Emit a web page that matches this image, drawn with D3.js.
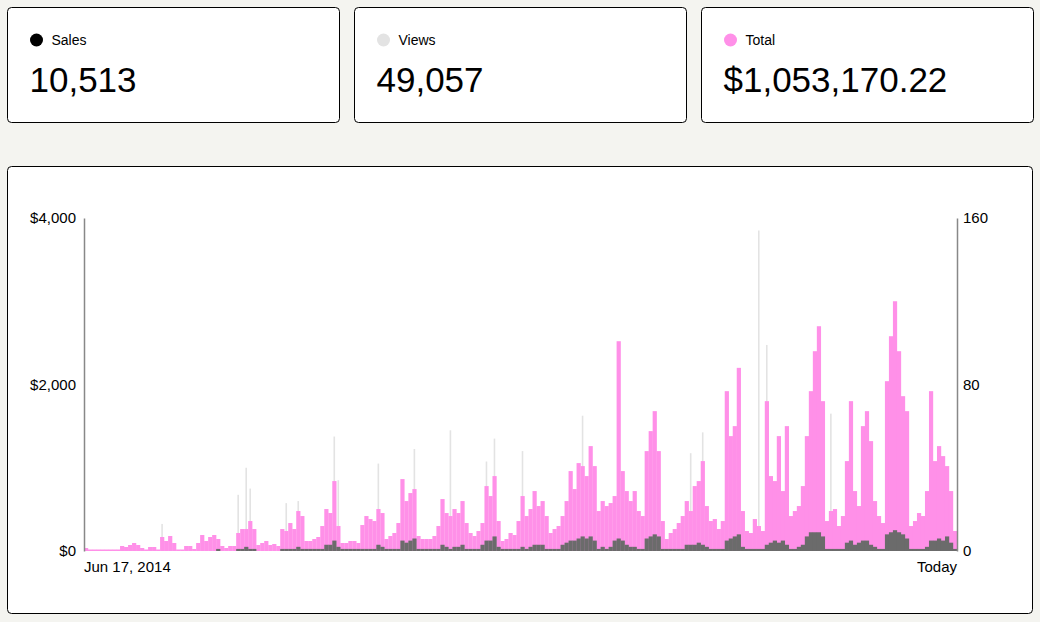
<!DOCTYPE html>
<html>
<head>
<meta charset="utf-8">
<script src="https://cdn.jsdelivr.net/npm/d3@7"></script>
<style>
  body { margin: 0; background: #f4f4f0; font-family: "Liberation Sans", Arial, sans-serif; }
  svg { display: block; }
</style>
</head>
<body>
<svg width="1040" height="622"></svg>
<script>
const svg = d3.select("svg");
const width = +svg.attr("width");
const height = +svg.attr("height");

// summary cards
const cardLabels = ["Sales", "Views", "Total"];
const cardValues = ["10,513", "49,057", "$1,053,170.22"];

// axis labels
const xLabels = ["Jun 17, 2014", "Today"];
const totalTicks = [0, 2000, 4000];
const countTicks = [0, 80, 160];

// one value per ~18 day bucket, Jun 17 2014 -> today
const totalValues = [
  36, 0, 0, 0, 0, 0, 0, 0, 0, 60,
  48, 72, 96, 72, 36, 0, 48, 48, 0, 168,
  120, 180, 96, 0, 0, 60, 60, 24, 96, 192,
  120, 168, 192, 144, 60, 36, 60, 60, 216, 264,
  264, 360, 264, 72, 96, 120, 72, 84, 60, 264,
  240, 336, 264, 480, 420, 120, 120, 144, 168, 300,
  504, 456, 840, 300, 96, 96, 120, 120, 96, 312,
  420, 384, 360, 504, 456, 144, 180, 216, 336, 864,
  600, 696, 744, 180, 144, 144, 144, 180, 300, 624,
  456, 420, 504, 456, 600, 336, 216, 180, 240, 336,
  780, 660, 900, 360, 120, 144, 216, 192, 360, 660,
  420, 504, 720, 540, 600, 420, 216, 264, 300, 420,
  600, 960, 744, 1056, 1020, 900, 1260, 1020, 480, 600,
  540, 576, 660, 2520, 960, 720, 600, 720, 480, 420,
  1200, 1440, 1680, 1200, 360, 144, 216, 264, 336, 420,
  600, 480, 780, 840, 1080, 540, 360, 384, 264, 360,
  1920, 1380, 1500, 2200, 480, 240, 216, 384, 300, 240,
  1800, 900, 840, 1380, 720, 1500, 420, 480, 540, 780,
  1380, 1920, 2400, 2700, 1800, 360, 480, 504, 300, 420,
  1080, 1800, 720, 540, 1500, 1680, 1320, 600, 420, 336,
  2040, 2580, 3000, 2400, 1860, 1680, 300, 360, 456, 420,
  720, 1920, 1080, 1260, 1140, 1020, 720, 240,
];

const viewValues = [
  1, 0, 0, 0, 0, 0, 0, 0, 0, 2,
  1, 2, 3, 2, 1, 0, 1, 1, 0, 13,
  3, 5, 3, 0, 0, 2, 2, 1, 3, 5,
  3, 5, 5, 4, 2, 1, 2, 2, 27, 7,
  40, 30, 7, 2, 3, 3, 2, 2, 2, 7,
  23, 9, 7, 24, 12, 3, 3, 4, 5, 8,
  14, 13, 55, 34, 3, 3, 3, 3, 3, 9,
  12, 11, 10, 42, 13, 4, 5, 6, 9, 24,
  17, 19, 49, 5, 4, 4, 4, 5, 8, 17,
  13, 58, 14, 13, 17, 9, 6, 5, 7, 9,
  43, 18, 54, 10, 3, 4, 6, 5, 10, 48,
  12, 14, 20, 15, 17, 12, 6, 7, 8, 12,
  17, 27, 21, 29, 65, 25, 35, 28, 13, 17,
  15, 16, 18, 40, 27, 20, 17, 20, 13, 12,
  33, 40, 47, 33, 10, 4, 6, 7, 9, 12,
  17, 47, 22, 23, 57, 15, 10, 11, 7, 10,
  40, 38, 42, 45, 13, 7, 6, 11, 154, 7,
  99, 25, 23, 38, 20, 42, 12, 13, 15, 22,
  38, 50, 60, 65, 50, 10, 66, 14, 8, 12,
  30, 45, 20, 15, 40, 45, 37, 17, 12, 9,
  50, 60, 65, 60, 50, 45, 8, 10, 13, 12,
  20, 45, 30, 35, 32, 30, 20, 7,
];

const saleValues = [
  0, 0, 0, 0, 0, 0, 0, 0, 0, 0,
  0, 0, 0, 0, 0, 0, 0, 0, 0, 0,
  0, 0, 0, 0, 0, 0, 0, 0, 0, 0,
  0, 0, 0, 1, 0, 0, 0, 0, 1, 1,
  2, 1, 1, 0, 0, 0, 0, 0, 0, 1,
  1, 1, 1, 2, 1, 1, 1, 1, 1, 1,
  3, 3, 5, 2, 1, 1, 1, 1, 1, 1,
  1, 1, 1, 3, 2, 1, 1, 1, 1, 5,
  4, 5, 6, 1, 1, 1, 1, 1, 1, 3,
  2, 1, 2, 2, 3, 1, 1, 1, 1, 3,
  5, 5, 7, 2, 1, 1, 1, 1, 1, 2,
  1, 2, 3, 3, 3, 1, 1, 1, 1, 3,
  4, 5, 5, 6, 7, 6, 7, 5, 1, 2,
  1, 2, 5, 6, 5, 3, 2, 2, 1, 1,
  6, 7, 8, 7, 1, 1, 1, 1, 1, 1,
  3, 3, 3, 4, 3, 2, 1, 1, 1, 1,
  5, 6, 7, 8, 2, 1, 1, 1, 1, 1,
  3, 4, 5, 4, 5, 3, 1, 1, 2, 3,
  7, 9, 9, 9, 7, 1, 1, 1, 1, 1,
  4, 5, 3, 4, 5, 5, 3, 2, 1, 1,
  8, 9, 10, 9, 8, 6, 1, 1, 1, 1,
  2, 5, 5, 6, 5, 7, 4, 1,
];

const colors = { sales: "#000", views: "#e3e3e3", total: "#ff90e8", salesBar: "#6b6b6b" };
const cardColors = [colors.sales, colors.views, colors.total];

svg.append("rect").attr("width", width).attr("height", height).attr("fill", "#f4f4f0");

// ---- cards ----
const cardX = d3.scalePoint().domain(cardLabels).range([7.5, 701.5]);
const cardG = svg
  .selectAll("g.card")
  .data(cardLabels)
  .enter()
  .append("g")
  .attr("class", "card")
  .attr("transform", (d) => `translate(${cardX(d)},7.5)`);

cardG
  .append("rect")
  .attr("width", 332)
  .attr("height", 115)
  .attr("rx", 4)
  .attr("fill", "#fff")
  .attr("stroke", "#000");

cardG
  .append("circle")
  .attr("cx", 29)
  .attr("cy", 32.5)
  .attr("r", 6.5)
  .attr("fill", (d, i) => cardColors[i]);

cardG
  .append("text")
  .attr("x", 44)
  .attr("y", 37.5)
  .attr("font-size", 14)
  .attr("fill", "#000")
  .text((d) => d);

cardG
  .append("text")
  .attr("x", 22)
  .attr("y", 84)
  .attr("font-size", 35)
  .attr("fill", "#000")
  .text((d, i) => cardValues[i]);

// ---- chart card ----
svg
  .append("rect")
  .attr("x", 7.5)
  .attr("y", 166.5)
  .attr("width", 1025)
  .attr("height", 447)
  .attr("rx", 4)
  .attr("fill", "#fff")
  .attr("stroke", "#000");

const margin = { top: 218, left: 84, right: 957, bottom: 551 };

const xScale = d3
  .scaleBand()
  .domain(d3.range(totalValues.length))
  .range([margin.left, margin.right])
  .padding(0);

const yTotal = d3.scaleLinear().domain([0, 4000]).range([margin.bottom, margin.top]);
const yCount = d3.scaleLinear().domain([0, 160]).range([margin.bottom, margin.top]);

const bw = xScale.bandwidth();
const g = svg.append("g");

// views behind, drawn thin
g.selectAll("rect.views")
  .data(viewValues)
  .enter()
  .append("rect")
  .attr("class", "views")
  .attr("x", (d, i) => xScale(i) + bw * 0.3)
  .attr("width", bw * 0.4)
  .attr("y", (d) => yCount(d))
  .attr("height", (d) => margin.bottom - yCount(d))
  .attr("fill", colors.views);

g.selectAll("rect.total")
  .data(totalValues)
  .enter()
  .append("rect")
  .attr("class", "total")
  .attr("x", (d, i) => xScale(i))
  .attr("width", bw + 0.2)
  .attr("y", (d) => Math.min(yTotal(d), margin.bottom - 1.5))
  .attr("height", (d) => Math.max(margin.bottom - yTotal(d), 1.5))
  .attr("fill", colors.total);

g.selectAll("rect.sales")
  .data(saleValues)
  .enter()
  .append("rect")
  .attr("class", "sales")
  .attr("x", (d, i) => xScale(i))
  .attr("width", bw + 0.2)
  .attr("y", (d) => yCount(d))
  .attr("height", (d) => margin.bottom - yCount(d))
  .attr("fill", colors.salesBar);

// ---- axes ----
const styleAxis = (sel) => {
  sel.select(".domain").attr("stroke", "#888").attr("stroke-width", 1.5);
  sel.selectAll("text").attr("font-size", 15).attr("fill", "#000")
    .attr("font-family", '"Liberation Sans", Arial, sans-serif');
};

svg
  .append("g")
  .attr("transform", `translate(${margin.left},0)`)
  .call(
    d3.axisLeft(yTotal).tickValues(totalTicks).tickSize(0).tickPadding(8)
      .tickFormat(d3.format("$,"))
  )
  .call(styleAxis);

svg
  .append("g")
  .attr("transform", `translate(${margin.right},0)`)
  .call(d3.axisRight(yCount).tickValues(countTicks).tickSize(0).tickPadding(6))
  .call(styleAxis);

const xAxisG = svg
  .append("g")
  .attr("transform", `translate(0,${margin.bottom})`)
  .call(
    d3.axisBottom(xScale)
      .tickValues([0, totalValues.length - 1])
      .tickSize(0)
      .tickPadding(10)
      .tickFormat((d, i) => xLabels[i])
  )
  .call(styleAxis);

xAxisG.select(".domain").remove();
xAxisG
  .selectAll("text")
  .attr("text-anchor", (d, i) => (i === 0 ? "start" : "end"))
  .attr("x", (d, i) => (i === 0 ? -bw / 2 : bw / 2));
</script>
</body>
</html>
